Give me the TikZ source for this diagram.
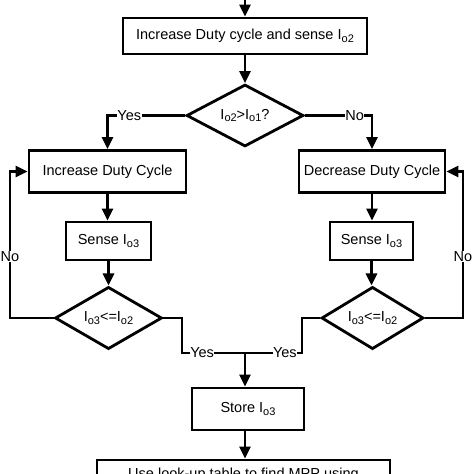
\documentclass[tikz,border=0pt]{standalone}
\usepackage{fontspec}
\setmainfont{Liberation Sans}
\usetikzlibrary{shapes.geometric,arrows.meta,calc}
\newcommand\lsub[1]{\raisebox{-0.35ex}{\fontsize{11}{11}\selectfont #1}}
\begin{document}
\begin{tikzpicture}[x=1pt,y=-1pt,
  line width=2.8pt,
  font=\fontsize{14.5}{16}\selectfont,
  box/.style={draw,rectangle,inner sep=0pt},
  dia/.style={draw,diamond,inner sep=0pt},
  arr/.style={-{Triangle[length=12pt,width=11pt]}},
  lab/.style={fill=white,inner sep=0.5pt}]
\useasboundingbox (0,0) rectangle (474,474);
\clip (0,0) rectangle (474,474);
\coordinate (top) at (245,0);
\node[box,minimum width=244,minimum height=36] (b1) at (245,36) {Increase Duty cycle and sense I\lsub{o2}};
\node[dia,minimum width=117,minimum height=55] (d1) at (245,115.5) {I\lsub{o2}>I\lsub{o1}?};
\node[box,minimum width=157,minimum height=42] (l1) at (107.5,171.5) {Increase Duty Cycle};
\node[box,minimum width=146,minimum height=42] (r1) at (372,171.5) {Decrease Duty Cycle};
\node[box,minimum width=85,minimum height=38] (l2) at (108.5,241) {Sense I\lsub{o3}};
\node[box,minimum width=83,minimum height=38] (r2) at (371.5,241) {Sense I\lsub{o3}};
\node[dia,minimum width=107,minimum height=48] (ld) at (108.5,318) {I\lsub{o3}<=I\lsub{o2}};
\node[dia,minimum width=102,minimum height=48] (rd) at (372.5,318) {I\lsub{o3}<=I\lsub{o2}};
\coordinate (j) at (245,353);
\node[box,minimum width=112,minimum height=42] (st) at (248,409) {Store I\lsub{o3}};
\node[box,minimum width=293,minimum height=44] (bt) at (243.5,482) {};
\node[anchor=base] (btt) at (243.5,478) {Use look-up table to find MPP using};
% connectors
\draw[arr] (top) -- (b1.north);
\draw[arr] (b1.south) -- (d1.north);
\draw[arr] (d1.west) -| (l1.north) node[lab,pos=0.36] {Yes};
\draw[arr] (d1.east) -| (r1.north) node[lab,pos=0.37] {No};
\draw[arr] (l1.south) -- (l1.south |- l2.north);
\draw[arr] (l2.south) -- (ld.north);
\draw[arr] (r1.south) -- (r1.south |- r2.north);
\draw[arr] (r2.south) -- (r2.south |- rd.north);
\draw[arr] (ld.west) -- (10,318) |- (l1.west) node[lab,pos=0.21] {No};
\draw[arr] (rd.east) -- (463,318) |- (r1.east) node[lab,pos=0.21] {No};
\draw (ld.east) -- (182,318) |- (j) node[lab,pos=0.66] {Yes};
\draw (rd.west) -- (302,318) |- (j) node[lab,pos=0.65] {Yes};
\draw[arr] (j) -- (j |- st.north);
\draw[arr] (j |- st.south) -- (j |- bt.north);
\end{tikzpicture}
\end{document}
